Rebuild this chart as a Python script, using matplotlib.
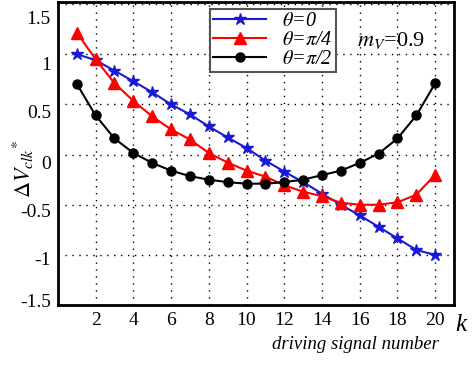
import matplotlib
matplotlib.use("Agg")
import matplotlib.pyplot as plt
import matplotlib.transforms as mtransforms

plt.rcParams['font.family'] = ['Liberation Serif', 'DejaVu Serif']
plt.rcParams['mathtext.fontset'] = 'stix'

k = list(range(1, 21))
theta0 = [1.0, 0.94, 0.835, 0.73, 0.62, 0.50, 0.40, 0.28, 0.17, 0.065,
          -0.06, -0.17, -0.275, -0.39, -0.50, -0.606, -0.72, -0.835, -0.95, -1.0]
theta_pi4 = [1.215, 0.95, 0.71, 0.535, 0.38, 0.25, 0.15, 0.016, -0.08, -0.16,
             -0.22, -0.305, -0.37, -0.415, -0.48, -0.50, -0.50, -0.475, -0.40, -0.20]
theta_pi2 = [0.705, 0.39, 0.16, 0.016, -0.083, -0.16, -0.215, -0.25, -0.275, -0.29,
             -0.29, -0.275, -0.25, -0.205, -0.16, -0.083, 0.01, 0.16, 0.39, 0.71]
labels = [r'$\theta$=0', r'$\theta$=$\pi$/4', r'$\theta$=$\pi$/2']
xticks = list(range(2, 21, 2))
yticks = [-1.5, -1, -0.5, 0, 0.5, 1, 1.5]
yticklabels = ['-1.5', '-1', '-0.5', '0', '0.5', '1', '1.5']

fig = plt.figure(figsize=(4.74, 3.81), dpi=100)
ax = fig.add_axes([0.122, 0.199, 0.836, 0.796])

ax.plot(k, theta0, color='#1a1ad6', marker='*', markersize=9, lw=1.5, label=labels[0])
ax.plot(k, theta_pi4, color='red', marker='^', markersize=8, lw=1.5, label=labels[1])
ax.plot(k, theta_pi2, color='black', marker='o', markersize=6.5, lw=1.5, label=labels[2])

ax.set_xlim(0, 21)
ax.set_ylim(-1.5, 1.52)
ax.set_xticks(xticks)
ax.set_yticks(yticks)
ax.set_yticklabels(yticklabels)
ax.tick_params(direction='in', labelsize=14, length=0, pad=5)
ax.grid(True, color='black', linestyle=(0, (1, 4)), linewidth=1.0)
for s in ax.spines.values():
    s.set_linewidth(2)

# y labels are not quite centred on their grid lines in the original
shifts = {-1.5: 5, -1: -4, -0.5: -6, 0: -8, 0.5: -7, 1: -9, 1.5: -14}
for lab, v in zip(ax.get_yticklabels(), yticks):
    lab.set_transform(lab.get_transform() + mtransforms.ScaledTranslation(0, shifts[v] / fig.dpi, fig.dpi_scale_trans))

leg = ax.legend(loc='upper left', bbox_to_anchor=(0.375, 0.99), fontsize=14.5,
                fancybox=False, framealpha=1, edgecolor='#555555',
                handlelength=2.6, borderpad=0.15, labelspacing=0.0, handletextpad=0.8,
                borderaxespad=0.2)
leg.get_frame().set_linewidth(1.5)
for t in leg.get_texts():
    t.set_fontstyle('italic')

ax.text(0.755, 0.855, r'$m_V$=0.9', transform=ax.transAxes, fontsize=16)
fig.text(0.05, 0.555, r'$\Delta V_{clk}$$^{*}$', fontsize=16, rotation=90, ha='center', va='center')
fig.text(0.749, 0.085, 'driving signal number', fontsize=13.5, style='italic', ha='center')
fig.text(0.985, 0.13, 'k', fontsize=18, style='italic', ha='right')

fig.savefig('out.png', dpi=100)
